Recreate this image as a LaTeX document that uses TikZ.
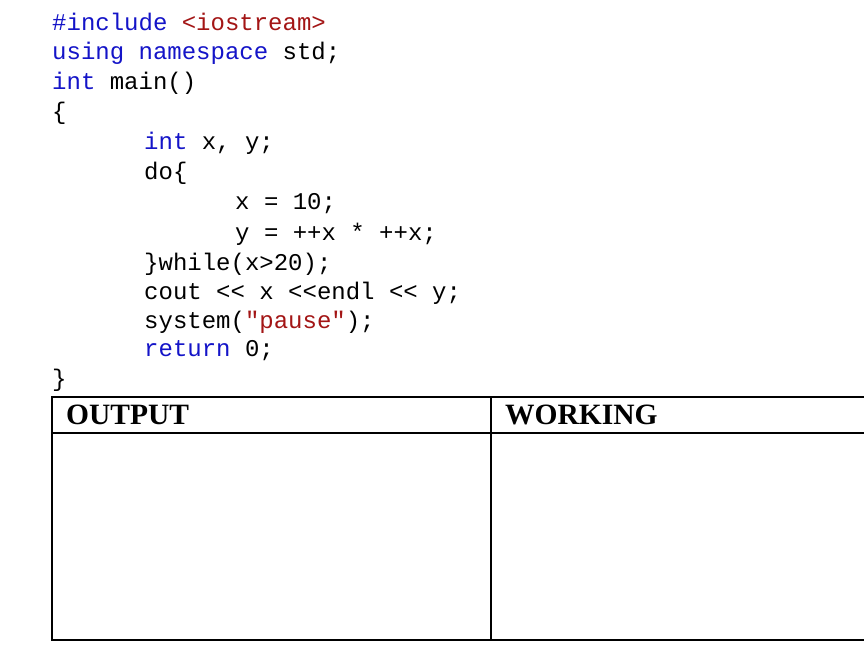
\documentclass[tikz,border=0pt]{standalone}
\usepackage{fontspec}
\setmonofont{Liberation Mono}
\setmainfont{Liberation Serif}
\definecolor{kw}{RGB}{20,20,200}
\definecolor{str}{RGB}{163,21,21}
\begin{document}
\begin{tikzpicture}[x=1pt,y=-1pt,
  code/.style={anchor=west,inner sep=0pt,font=\ttfamily\fontsize{24}{24}\selectfont},
  head/.style={anchor=west,inner sep=0pt,font=\bfseries\fontsize{29.5}{29.5}\selectfont}]
\useasboundingbox[fill=white] (0,0) rectangle (864,664);
\node[code] (l1) at (52,22) {\textcolor{kw}{\#include} \textcolor{str}{<iostream>}};
\node[code] (l2) at (52,53) {\textcolor{kw}{using namespace} std;};
\node[code] (l3) at (52,83) {\textcolor{kw}{int} main()};
\node[code] (l4) at (52,113) {\{};
\node[code] (l5) at (144,143) {\textcolor{kw}{int} x, y;};
\node[code] (l6) at (144,173) {do\{};
\node[code] (l7) at (235,204) {x = 10;};
\node[code] (l8) at (235,234) {y = ++x * ++x;};
\node[code] (l9) at (144,264) {\}while(x>20);};
\node[code] (l10) at (144,293) {cout << x <<endl << y;};
\node[code] (l11) at (144,322) {system(\textcolor{str}{"pause"});};
\node[code] (l12) at (144,351) {\textcolor{kw}{return} 0;};
\node[code] (l13) at (52,380) {\}};
\draw[line width=1.5pt] (52,397) rectangle (870,640);
\draw[line width=1.5pt] (52,433) -- (870,433);
\draw[line width=1.5pt] (491,397) -- (491,640);
\node[head] (h1) at (66,415) {OUTPUT};
\node[head] (h2) at (505,415) {WORKING};
\end{tikzpicture}
\end{document}
